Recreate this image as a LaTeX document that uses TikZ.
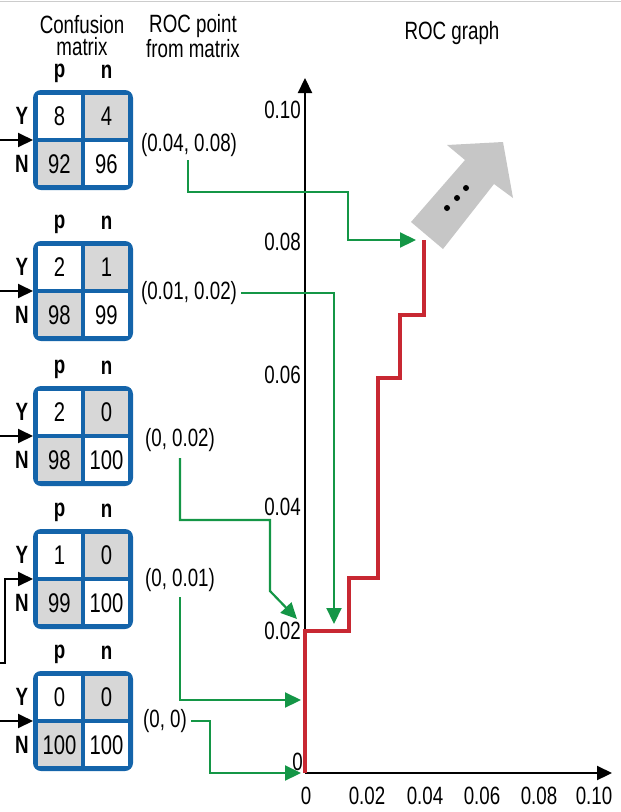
\documentclass[tikz,border=0pt]{standalone}
\usepackage{fontspec}
\setmainfont{Liberation Sans}[FakeStretch=0.75]
\usetikzlibrary{arrows.meta}
\definecolor{mblue}{RGB}{20,100,170}
\definecolor{mgreen}{RGB}{20,150,70}
\definecolor{mred}{RGB}{200,40,50}
\definecolor{cellg}{RGB}{215,215,215}
\tikzset{
 txt/.style={font=\fontsize{25}{26}\selectfont, inner sep=0pt},
 hdr/.style={font=\fontsize{25}{22}\selectfont, inner sep=0pt, align=center},
 num/.style={font=\fontsize{27}{28}\selectfont},
 lab/.style={font=\bfseries\fontsize{25}{26}\selectfont, inner sep=0pt},
 gline/.style={mgreen, line width=2.2pt},
 garr/.style={gline, -{Triangle[length=16pt,width=15pt]}},
 barr/.style={black, line width=2pt, -{Triangle[length=15pt,width=14pt]}},
 axis/.style={black, line width=2.2pt, -{Triangle[length=15pt,width=14pt]}},
}
\newcommand{\cmat}[6]{% name, cy, a, b, c, d
 \fill[mblue, rounded corners=8pt] (33,#2-50) rectangle (133,#2+50);
 \fill[white] (38,#2-45) rectangle (81,#2-2);
 \fill[cellg] (85,#2-45) rectangle (128,#2-2);
 \fill[cellg] (38,#2+2) rectangle (81,#2+45);
 \fill[white] (85,#2+2) rectangle (128,#2+45);
 \node[num] (#1a) at (59.5,#2-24) {#3};
 \node[num] (#1b) at (106.5,#2-24) {#4};
 \node[num] (#1c) at (59.5,#2+24) {#5};
 \node[num] (#1d) at (106.5,#2+24) {#6};
 \node[lab] (#1Y) at (22,#2-24) {Y};
 \node[lab] (#1N) at (22,#2+24) {N};
 \node[lab] (#1p) at (59.5,#2-67) {p};
 \node[lab] (#1n) at (106.5,#2-68) {n};
 \coordinate (#1in) at (33,#2);
}
\begin{document}
\begin{tikzpicture}[x=1pt,y=-1pt]
\useasboundingbox (0,0) rectangle (621,812);
\draw[gray!40, line width=1pt] (0,1) -- (621,1);
% headers
\node[hdr] (h1) at (82,36) {Confusion\\matrix};
\node[hdr] (h2) at (193,36) {ROC point\\from matrix};
\node[hdr] (h3) at (452,33) {ROC graph};
% matrices
\cmat{m1}{140}{8}{4}{92}{96}
\cmat{m2}{291}{2}{1}{98}{99}
\cmat{m3}{436}{2}{0}{98}{100}
\cmat{m4}{579}{1}{0}{99}{100}
\cmat{m5}{721}{0}{0}{100}{100}
\coordinate (l1) at (0,140); \coordinate (l2) at (0,291);
\coordinate (l3) at (0,436); \coordinate (l5) at (0,721);
\coordinate (l4) at (0,663);
\draw[barr] (l1) -- (m1in);
\draw[barr] (l2) -- (m2in);
\draw[barr] (l3) -- (m3in);
\draw[barr] (l4) -- (5,663) |- (m4in);
\draw[barr] (l5) -- (m5in);
% ROC points labels
\node[txt] (r1) at (189,145) {(0.04, 0.08)};
\node[txt] (r2) at (189,293) {(0.01, 0.02)};
\node[txt] (r3) at (180,440) {(0, 0.02)};
\node[txt] (r4) at (180,580) {(0, 0.01)};
\node[txt] (r5) at (165,721) {(0, 0)};
% axes
\coordinate (O) at (305,773);
\coordinate (ytop) at (305,78);
\coordinate (xend) at (612,773);
\draw[axis] (O) -- (ytop);
\draw[axis] (O) -- (xend);
\foreach \v/\y in {0.10/110,0.08/242,0.06/375,0.04/507,0.02/631}
  \node[txt, anchor=east] at (301,\y) {\v};
\node[txt, anchor=east] (y0) at (303,762) {0};
\foreach \v/\x in {0/306,0.02/367,0.04/425,0.06/482,0.08/539,0.10/594}
  \node[txt] at (\x,796) {\v};
% gray arrow
\fill[gray!45] (411,222) -- (465,160) -- (447,145) -- (503,142) -- (513,198) -- (494,184) -- (443,249) -- cycle;
\foreach \p in {(447,208),(457,198),(466,188)} \fill[black] \p circle (3);
% red curve
\draw[mred, line width=4.5pt, line join=miter] (O) -- (305,631) -- (349,631) -- (349,578) -- (378,578) -- (378,378) -- (400,378) -- (400,315) -- (424,315) -- (424,240);
% green connectors
\coordinate (t1) at (416,240);
\coordinate (t2) at (334,624);
\coordinate (t3) at (297,619);
\coordinate (t4) at (301,700);
\coordinate (t5) at (301,773);
\draw[garr] (188,160) -- (188,192) -- (348,192) |- (t1);
\draw[garr] (r2.east) ++(4,0) -- (334,293) -- (t2);
\draw[garr] (180,458) -- (180,520) -- (270,520) -- (270,591) -- (t3);
\draw[garr] (180,597) |- (t4);
\draw[garr] (r5.east) ++(4,0) -- (210,721) |- (t5);
\end{tikzpicture}
\end{document}
